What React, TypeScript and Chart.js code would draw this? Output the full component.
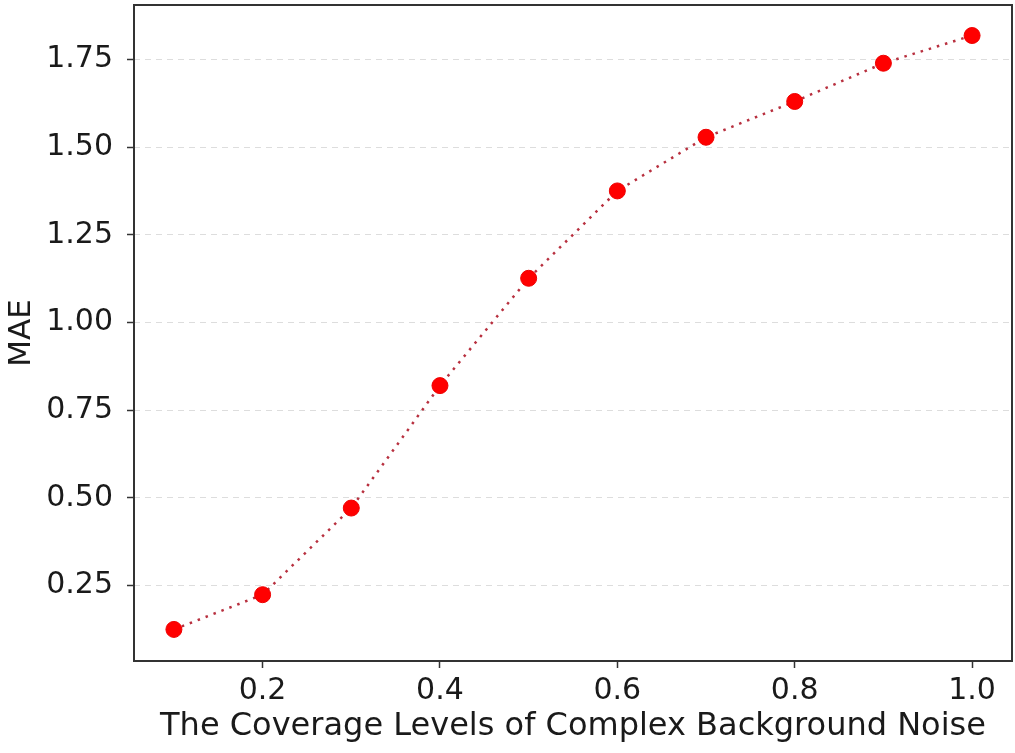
import React, { useEffect, useRef } from "react";
import { Chart, registerables } from "chart.js";

Chart.register(...registerables);

const coverage = [0.1, 0.2, 0.3, 0.4, 0.5, 0.6, 0.7, 0.8, 0.9, 1.0];
const maeValues = [0.125, 0.224, 0.471, 0.82, 1.126, 1.375, 1.528, 1.63, 1.739, 1.818];
const xTicks = [0.2, 0.4, 0.6, 0.8, 1.0];
const yTicks = [0.25, 0.5, 0.75, 1.0, 1.25, 1.5, 1.75];

const FONT = "'DejaVu Sans', sans-serif";

const boxPlugin = {
  id: "boxPlugin",
  afterDraw(chart: any) {
    const { ctx, chartArea } = chart;
    ctx.save();
    ctx.strokeStyle = "#333333";
    ctx.lineWidth = 2;
    ctx.strokeRect(chartArea.left, chartArea.top, chartArea.right - chartArea.left, chartArea.bottom - chartArea.top);
    ctx.restore();
  },
};

export default function App() {
  const ref = useRef<HTMLCanvasElement | null>(null);

  useEffect(() => {
    document.body.style.margin = "0";
    const canvas = ref.current;
    if (!canvas) return;
    const chart = new Chart(canvas, {
      type: "scatter",
      data: {
        datasets: [
          {
            data: coverage.map((x, i) => ({ x, y: maeValues[i] })),
            showLine: true,
            borderColor: "#b8303f",
            borderWidth: 2.5,
            borderDash: [2.5, 6],
            pointRadius: 8,
            pointHoverRadius: 8,
            pointBackgroundColor: "#ff0000",
            pointBorderColor: "#ee0000",
            pointBorderWidth: 1,
          },
        ],
      },
      options: {
        animation: false,
        responsive: false,
        devicePixelRatio: 1,
        plugins: { legend: { display: false }, tooltip: { enabled: false } },
        layout: { autoPadding: false, padding: { left: 0, top: 5, right: 3, bottom: 0 } },
        scales: {
          x: {
            type: "linear",
            min: 0.055,
            max: 1.045,
            afterBuildTicks: (scale: any) => {
              scale.ticks = xTicks.map((v) => ({ value: v }));
            },
            afterFit: (scale: any) => {
              scale.height = 92;
              scale.paddingLeft = 0;
              scale.paddingRight = 0;
            },
            grid: {
              drawOnChartArea: false,
              drawTicks: true,
              tickLength: 7,
              tickColor: "#333333",
              tickWidth: 1.5,
            },
            border: { display: false },
            ticks: {
              font: { family: FONT, size: 30 },
              color: "#1a1a1a",
              padding: 5,
              maxRotation: 0,
              callback: (v: any) => Number(v).toFixed(1),
            },
            title: {
              display: true,
              text: "The Coverage Levels of Complex Background Noise",
              font: { family: FONT, size: 32 },
              color: "#1a1a1a",
              padding: { top: 0, bottom: 7 },
            },
          },
          y: {
            type: "linear",
            min: 0.035,
            max: 1.905,
            afterBuildTicks: (scale: any) => {
              scale.ticks = yTicks.map((v) => ({ value: v }));
            },
            afterFit: (scale: any) => {
              scale.width = 134;
              scale.paddingTop = 0;
              scale.paddingBottom = 0;
            },
            grid: {
              drawOnChartArea: true,
              drawTicks: true,
              tickLength: 7,
              color: "#dddddd",
              lineWidth: 1,
              tickColor: "#333333",
              tickWidth: 1.5,
              tickBorderDash: [],
            },
            border: { display: false, dash: [6, 5] },
            ticks: {
              font: { family: FONT, size: 30 },
              color: "#1a1a1a",
              padding: 14,
              callback: (v: any) => Number(v).toFixed(2),
            },
            title: {
              display: true,
              text: "MAE",
              font: { family: FONT, size: 31 },
              color: "#1a1a1a",
              padding: { top: 3, bottom: 0 },
            },
          },
        },
      },
      plugins: [boxPlugin],
    });
    return () => chart.destroy();
  }, []);

  return (
    <div style={{ width: 1015, height: 753, background: "#fff" }}>
      <canvas ref={ref} width={1015} height={753} style={{ display: "block" }} />
    </div>
  );
}
